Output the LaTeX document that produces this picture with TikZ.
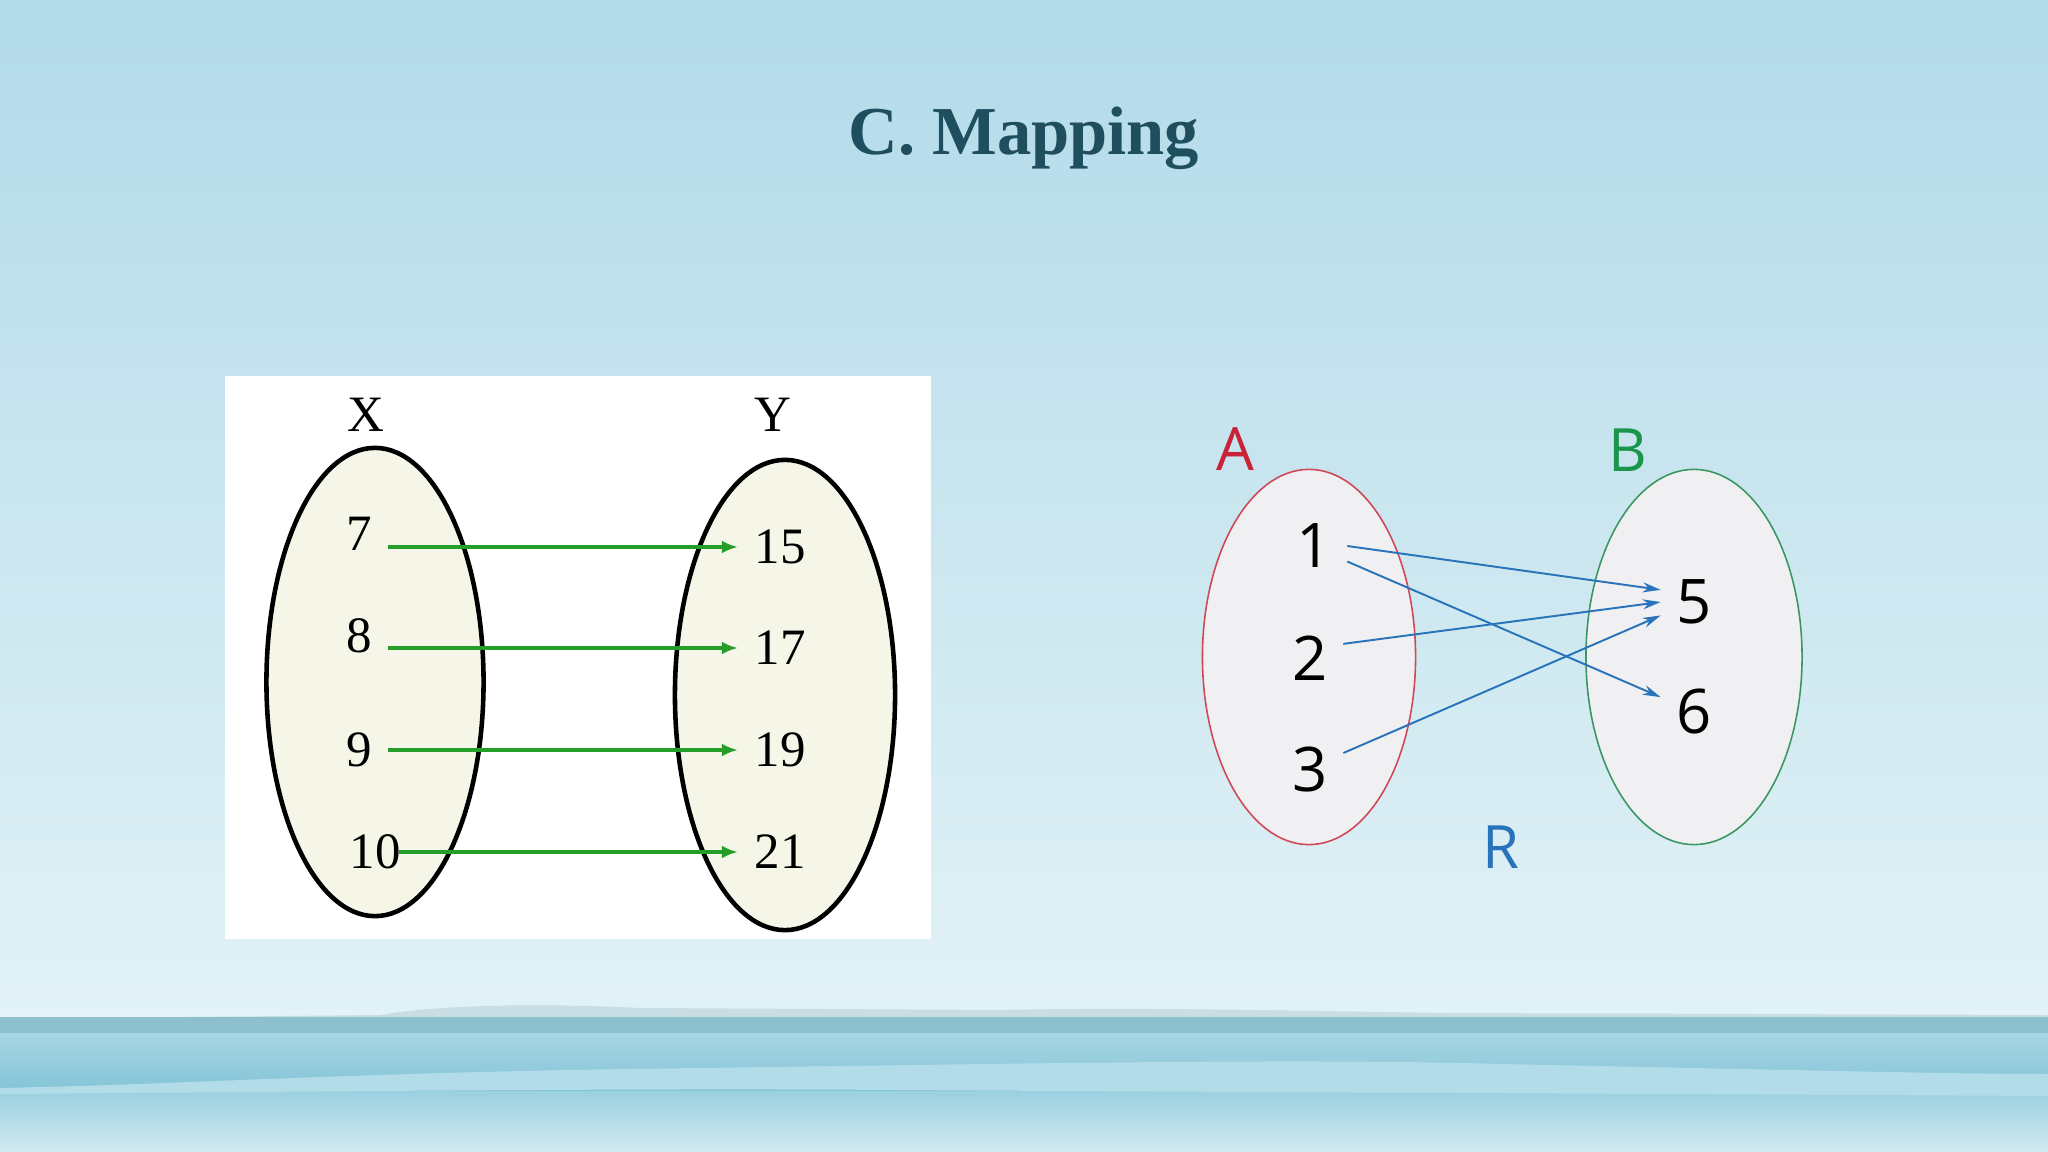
\documentclass[tikz,border=0pt]{standalone}
\usepackage{fontspec}
\setmainfont{Liberation Serif}
\newfontfamily\opensans{Open Sans}
\usetikzlibrary{positioning,arrows.meta,shapes.geometric}
\definecolor{skytop}{RGB}{178,218,233}
\definecolor{skybot}{RGB}{226,242,246}
\definecolor{titleteal}{RGB}{31,78,95}
\definecolor{mapgreen}{RGB}{36,158,40}
\definecolor{cream}{RGB}{246,246,232}
\definecolor{setgrey}{RGB}{240,240,242}
\definecolor{setred}{RGB}{208,72,88}
\definecolor{setgreen}{RGB}{60,150,100}
\definecolor{labred}{RGB}{200,35,55}
\definecolor{labgreen}{RGB}{25,150,75}
\definecolor{relblue}{RGB}{40,115,185}
\definecolor{seahaze}{RGB}{200,222,228}
\definecolor{seadark}{RGB}{140,192,206}
\definecolor{seamidtop}{RGB}{168,214,228}
\definecolor{seamidbot}{RGB}{132,196,215}
\definecolor{sealight}{RGB}{178,220,232}
\definecolor{sealow}{RGB}{150,206,222}
\definecolor{seabot}{RGB}{208,234,241}
\tikzset{
	oval/.style={
		ellipse,
		draw=black,
		line width=1.3pt,
		fill=cream,
		inner sep=0pt
	},
	setoval/.style={
		ellipse,
		line width=0.45pt,
		fill=setgrey,
		inner sep=0pt,
		minimum height=3.75cm
	},
	numxy/.style={font=\fontsize{14.5}{16}\selectfont, inner sep=0.16cm},
	numab/.style={font=\opensans\fontsize{17.5}{20}\selectfont, inner sep=0.15cm},
	labab/.style={font=\opensans\fontsize{17}{20}\selectfont},
	maparrow/.style={draw=mapgreen, line width=1.15pt, -{Latex[length=1.6mm,width=1.3mm]}},
	relarrow/.style={draw=relblue, line width=0.55pt, -{Stealth[length=1.8mm,width=1.0mm]}}
}

\begin{document}
\begin{tikzpicture}[x=0.01cm, y=-0.01cm]
	\useasboundingbox (0,0) rectangle (2048,1152);
	\fill[top color=skytop, bottom color=skybot] (0,0) rectangle (2048,1020);
	\fill[seahaze] (0,1019) -- (380,1015) .. controls (450,1003) and (560,1004) .. (640,1008) -- (1000,1010) .. controls (1150,1007) and (1300,1011) .. (1450,1013) -- (2048,1015) -- (2048,1025) -- (0,1025) -- cycle;
	\fill[seadark] (0,1017) rectangle (2048,1034);
	\fill[top color=sealow, bottom color=seabot] (0,1086) rectangle (2048,1152);
	\fill[top color=seamidtop, bottom color=seamidbot] (0,1033) rectangle (2048,1090);
	\fill[sealight] (0,1088) .. controls (200,1084) and (350,1072) .. (700,1068) .. controls (1000,1064) and (1300,1058) .. (1500,1064) .. controls (1800,1070) and (1950,1074) .. (2048,1074) -- (2048,1096) .. controls (1700,1094) and (1200,1092) .. (900,1090) .. controls (600,1088) and (300,1092) .. (0,1094) -- cycle;

	\node[font=\bfseries\fontsize{19.5}{22}\selectfont, text=titleteal, anchor=base] (title) at (1024,155) {C. Mapping};

	\fill[white] (225,376) rectangle (931,939);
	\node[oval, minimum width=2.17cm, minimum height=4.68cm] (setX) at (375,682) {};
	\node[oval, minimum width=2.2cm, minimum height=4.7cm] (setY) at (785,695) {};
	\node[numxy] (labX) at (366,415) {X};
	\node[numxy] (labY) at (773,415) {Y};
	\node[numxy] (x7) at (359,534) {7};
	\node[numxy] (x8) at (359,636) {8};
	\node[numxy] (x9) at (359,750) {9};
	\node[numxy] (x10) at (375,852) {10};
	\node[numxy] (y15) at (780,547) {15};
	\node[numxy] (y17) at (780,648) {17};
	\node[numxy] (y19) at (780,750) {19};
	\node[numxy] (y21) at (780,852) {21};
	\foreach \a/\b/\s in {7/15/0cm,8/17/0cm,9/19/0cm,10/21/-0.18cm}
		\draw[maparrow, shorten <=\s] (x\a.east |- y\b.west) -- (y\b.west);

	\node[setoval, draw=setred, minimum width=2.13cm] (setA) at (1309,657) {};
	\node[setoval, draw=setgreen, minimum width=2.16cm] (setB) at (1694,657) {};
	\node[labab, text=labred] (labA) at (1235,449) {A};
	\node[labab, text=labgreen] (labB) at (1628,450) {B};
	\node[labab, text=relblue] (labR) at (1501,847) {R};
	\node[numab] (a1) at (1314,546) {1};
	\node[numab] (a2) at (1310,658) {2};
	\node[numab] (a3) at (1310,770) {3};
	\node[numab] (b5) at (1694,602) {5};
	\node[numab] (b6) at (1694,712) {6};
	\draw[relarrow] (a1.east) -- (b5.160);
	\draw[relarrow] (a1.-25) -- (b6.156);
	\draw[relarrow] (a2.23) -- (b5.west);
	\draw[relarrow] (a3.27) -- (b5.202);
\end{tikzpicture}
\end{document}
